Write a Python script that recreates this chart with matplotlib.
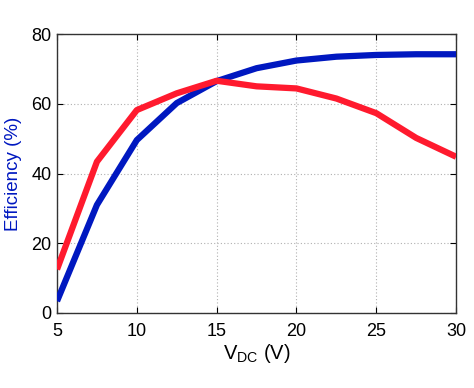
import matplotlib
matplotlib.use("Agg")
import matplotlib.pyplot as plt

plt.rcParams['font.family'] = ['Liberation Sans', 'DejaVu Sans']

# Data
vdc = [5, 7.5, 10, 12.5, 15, 17.5, 20, 22.5, 25, 27.5, 30]
eff_blue = [3.4, 31, 49.6, 60.2, 66.5, 70.2, 72.4, 73.5, 74.0, 74.2, 74.2]
eff_red = [12.5, 43.4, 58.2, 63.0, 66.6, 65.0, 64.4, 61.5, 57.3, 50.2, 44.8]

xticks = [5, 10, 15, 20, 25, 30]
yticks = [0, 20, 40, 60, 80]

fig = plt.figure(figsize=(4.74, 3.88), dpi=100)
ax = fig.add_axes([0.1203, 0.1933, 0.842, 0.719])

ax.plot(vdc, eff_blue, color='#0018c0', lw=4.5, solid_capstyle='butt', zorder=3)
ax.plot(vdc, eff_red, color='#ff1a2e', lw=4.5, solid_capstyle='butt', zorder=4)

ax.set_xlim(5, 30)
ax.set_ylim(0, 80)
ax.set_xticks(xticks)
ax.set_yticks(yticks)
ax.grid(True, linestyle=(0, (1, 2)), color='#b0b0b0', lw=0.8)
ax.tick_params(direction='in', length=4, labelsize=13, top=True, right=True,
               labeltop=False, labelright=False)
ax.tick_params(axis='x', pad=7)
ax.tick_params(axis='y', pad=4)
for s in ax.spines.values():
    s.set_linewidth(1.0)
    s.set_color('#333333')

ax.set_xlabel(r'V$_{\mathregular{DC}}$ (V)', fontsize=14.5)
ax.set_ylabel('Efficiency (%)', fontsize=13.5, color='#0018c0')
ax.xaxis.set_label_coords(0.5, -0.105)
ax.yaxis.set_label_coords(-0.088, 0.5)

fig.savefig('out.png', dpi=100)
